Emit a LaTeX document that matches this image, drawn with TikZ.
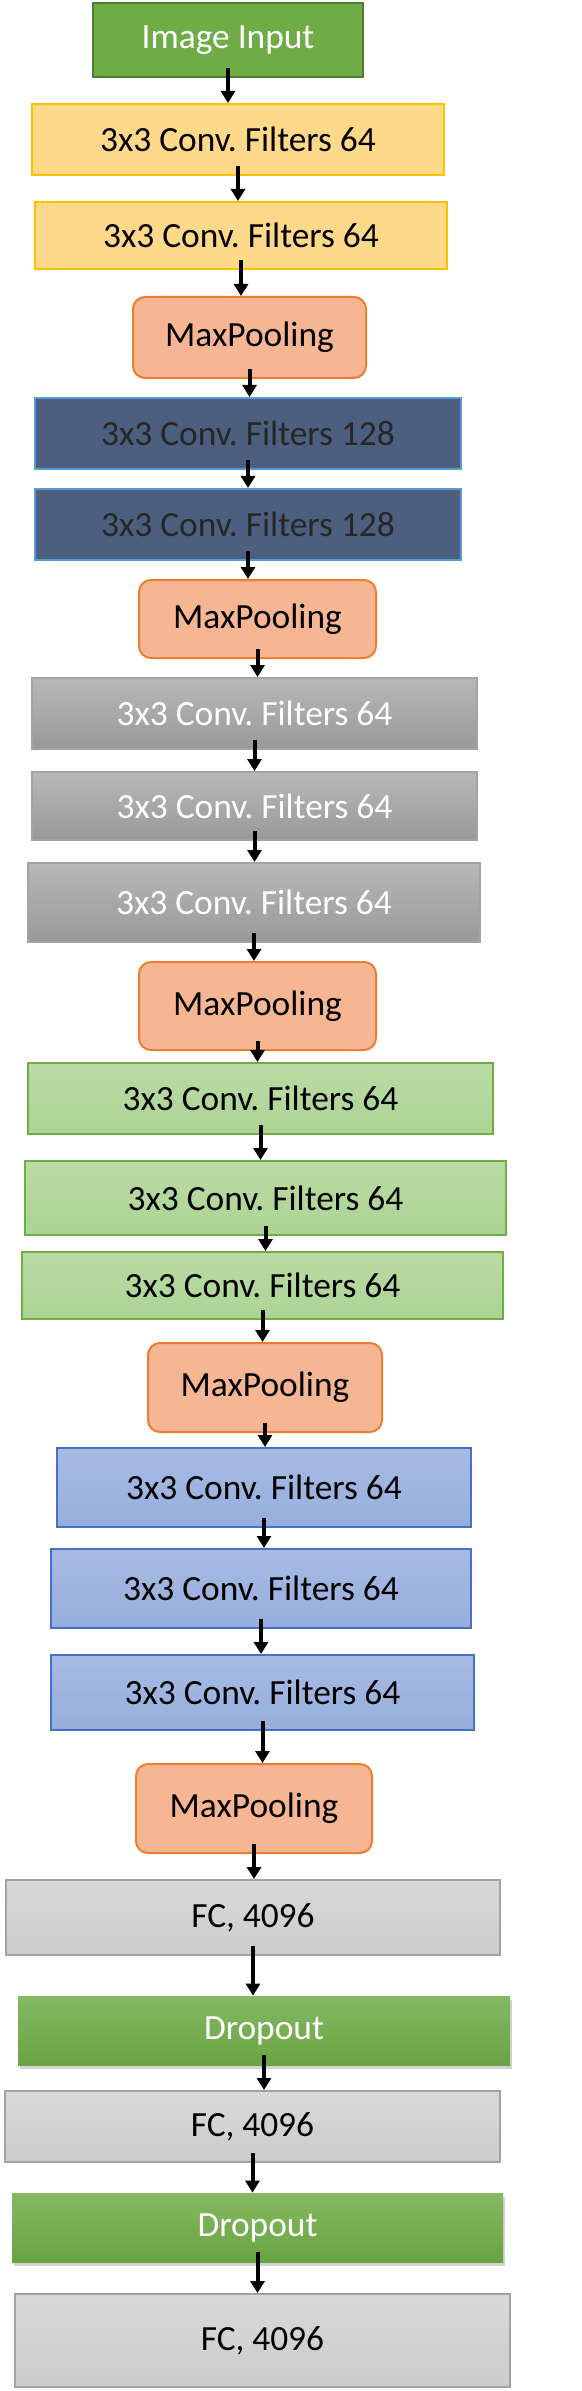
\documentclass[tikz,border=0pt]{standalone}
\usepackage{fontspec}
\setmainfont{Carlito}
\usetikzlibrary{arrows.meta,shadows}
\frenchspacing

\definecolor{inpfill}{HTML}{6FAC46}
\definecolor{inpline}{HTML}{4E7D30}
\definecolor{yelfill}{HTML}{FFD98A}
\definecolor{yelline}{HTML}{FFC000}
\definecolor{poolfill}{HTML}{F7B693}
\definecolor{poolline}{HTML}{ED7D31}
\definecolor{slatefill}{HTML}{4C5F7F}
\definecolor{slateline}{HTML}{5B9BD5}
\definecolor{greyline}{HTML}{A3A3A3}
\definecolor{lgfill}{HTML}{ADD494}
\definecolor{lgline}{HTML}{70AD47}
\definecolor{lbfill}{HTML}{97AEDD}
\definecolor{lbline}{HTML}{4472C4}

\begin{document}
\begin{tikzpicture}[x=0.5pt,y=-0.5pt,font=\fontsize{17.7}{20}\selectfont,
  wd/.style={minimum width=#1*0.5pt},
  ht/.style={minimum height=#1*0.5pt},
  box/.style={draw,line width=1pt,inner sep=0pt},
  inbox/.style={box,fill=inpfill,draw=inpline,text=white},
  yelbox/.style={box,fill=yelfill,draw=yelline},
  poolbox/.style={box,rounded corners=6pt,fill=poolfill,draw=poolline},
  slatebox/.style={box,fill=slatefill,draw=slateline,text=black!85},
  greybox/.style={box,top color=black!28,bottom color=black!40,draw=greyline,text=white},
  lgbox/.style={box,top color=lgfill!85!white,bottom color=lgfill,draw=lgline},
  lbbox/.style={box,top color=lbfill!85!white,bottom color=lbfill,draw=lbline},
  fcbox/.style={box,top color=black!15,bottom color=black!20,draw=greyline},
  dropbox/.style={inner sep=0pt,top color=inpfill!85!white,bottom color=inpfill!95!black,
    text=white,drop shadow={shadow xshift=1pt,shadow yshift=-2pt,opacity=0.35}},
  arr/.style={-{Triangle[length=6pt,width=7pt]},line width=2pt}]

\useasboundingbox (0,0) rectangle (582,2391);

% block 1
\node[inbox,wd=270,ht=74] (inp) at (228,40) {Image Input};
\node[yelbox,wd=412,ht=71] (ya) at (238,139.5) {3x3 Conv. Filters 64};
\node[yelbox,wd=412,ht=67] (yb) at (241,235.5) {3x3 Conv. Filters 64};
\node[poolbox,wd=233,ht=81] (mpa) at (249.5,337.5) {MaxPooling};

% block 2
\node[slatebox,wd=426,ht=71] (da) at (248,433.5) {3x3 Conv. Filters 128};
\node[slatebox,wd=426,ht=71] (db) at (248,524.5) {3x3 Conv. Filters 128};
\node[poolbox,wd=237,ht=78] (mpb) at (257.5,619) {MaxPooling};

% block 3
\node[greybox,wd=445,ht=71] (ga) at (254.5,713.5) {3x3 Conv. Filters 64};
\node[greybox,wd=445,ht=68] (gb) at (254.5,806) {3x3 Conv. Filters 64};
\node[greybox,wd=452,ht=79] (gc) at (254,902.5) {3x3 Conv. Filters 64};
\node[poolbox,wd=237,ht=88] (mpc) at (257.5,1006) {MaxPooling};

% block 4
\node[lgbox,wd=465,ht=71] (la) at (260.5,1098.5) {3x3 Conv. Filters 64};
\node[lgbox,wd=481,ht=74] (lb) at (265.5,1198) {3x3 Conv. Filters 64};
\node[lgbox,wd=481,ht=67] (lc) at (262.5,1285.5) {3x3 Conv. Filters 64};
\node[poolbox,wd=234,ht=89] (mpd) at (265,1387.5) {MaxPooling};

% block 5
\node[lbbox,wd=414,ht=79] (ba) at (264,1487.5) {3x3 Conv. Filters 64};
\node[lbbox,wd=420,ht=79] (bb) at (261,1588.5) {3x3 Conv. Filters 64};
\node[lbbox,wd=423,ht=75] (bc) at (262.5,1692.5) {3x3 Conv. Filters 64};
\node[poolbox,wd=236,ht=89] (mpe) at (254,1808.5) {MaxPooling};

% dense part
\node[fcbox,wd=494,ht=75] (fca) at (253,1917.5) {FC, 4096};
\node[dropbox,wd=492,ht=69] (dra) at (264,2030.5) {Dropout};
\node[fcbox,wd=495,ht=71] (fcb) at (252.5,2126.5) {FC, 4096};
\node[dropbox,wd=491,ht=69] (drb) at (257.5,2227.5) {Dropout};
\node[fcbox,wd=495,ht=93] (fcc) at (262.5,2340.5) {FC, 4096};

\foreach \a/\b in {inp/ya,ya/yb,yb/mpa,mpa/da,da/db,db/mpb,mpb/ga,ga/gb,gb/gc,
  gc/mpc,mpc/la,la/lb,lb/lc,lc/mpd,mpd/ba,ba/bb,bb/bc,bc/mpe,mpe/fca,
  fca/dra,dra/fcb,fcb/drb,drb/fcc}
  \draw[arr] ([yshift=5pt]\a.south) -- (\a.south |- \b.north);

\end{tikzpicture}
\end{document}
